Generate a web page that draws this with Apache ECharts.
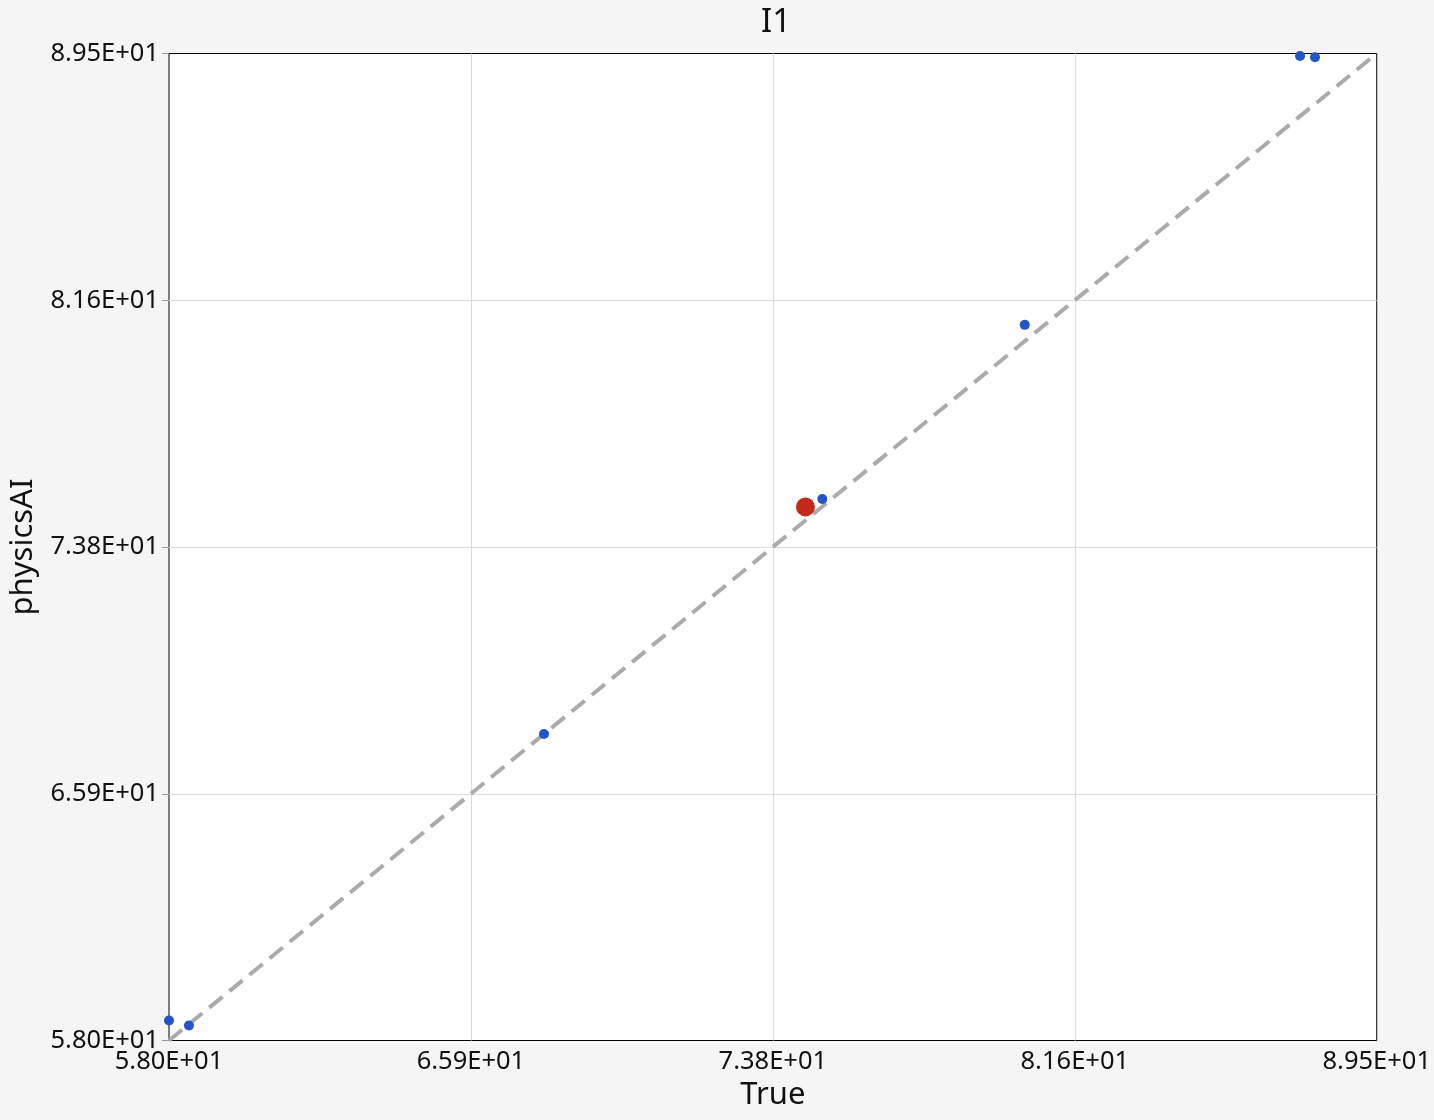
<!DOCTYPE html>
<html lang="en" style="height: 100%">
<head>
  <meta charset="utf-8">
</head>
<body style="height: 100%; margin: 0; background: #f5f5f5">
  <div id="container" style="height: 100%"></div>
  <script type="text/javascript" src="https://cdn.jsdelivr.net/npm/echarts@6/dist/echarts.min.js"></script>
  <script type="text/javascript">
    // values
    var trueVals = [58.0, 58.52, 67.78, 75.04, 80.32, 87.50, 87.89];
    var predVals = [58.64, 58.48, 67.78, 75.28, 80.84, 89.42, 89.38];
    var highlightTrue = [74.60];
    var highlightPred = [75.03];
    var axisMin = 58.0;
    var axisMax = 89.5;
    var tickStep = 7.875;

    // axis runs in offset units so ticks start at 0 (a multiple of the step)
    function shift(v) { return v - axisMin; }
    function fmt(v) {
      var s = (v + axisMin).toExponential(2).toUpperCase();
      return s.replace(/E([+-])(\d)$/, 'E$10$2');
    }

    var blueData = trueVals.map(function (x, i) { return [shift(x), shift(predVals[i])]; });
    var redData = highlightTrue.map(function (x, i) { return [shift(x), shift(highlightPred[i])]; });
    var diag = [[0, 0], [axisMax - axisMin, axisMax - axisMin]];

    var dom = document.getElementById('container');
    var myChart = echarts.init(dom, null, { renderer: 'canvas' });
    var font = 'Noto Sans';

    var option = {
      backgroundColor: '#f5f5f5',
      animation: false,
      title: {
        text: 'I1',
        left: 771,
        textAlign: 'center',
        top: 1,
        textStyle: { fontFamily: font, fontSize: 33, fontWeight: 'normal', color: '#111' }
      },
      grid: {
        // half-pixel offsets keep the 1px black frame crisp
        left: 166.5, right: 55.5, top: 53.5, bottom: 79.5,
        show: true, backgroundColor: '#fff', borderColor: '#000', borderWidth: 1
      },
      xAxis: {
        type: 'value',
        min: 0, max: axisMax - axisMin, interval: tickStep,
        name: 'True', nameLocation: 'middle', nameGap: 36,
        nameTextStyle: { fontFamily: font, fontSize: 31, color: '#111' },
        axisLine: { show: false },
        axisTick: { show: false },
        axisLabel: { fontFamily: font, fontSize: 25.5, color: '#111', margin: 8, formatter: fmt },
        splitLine: { showMinLine: false, showMaxLine: false, lineStyle: { color: '#dcdcdc', width: 1 } }
      },
      yAxis: {
        type: 'value',
        min: 0, max: axisMax - axisMin, interval: tickStep,
        name: 'physicsAI', nameLocation: 'middle', nameGap: 130,
        nameTextStyle: { fontFamily: font, fontSize: 31, color: '#111' },
        axisLine: { show: false },
        axisTick: { show: true, length: 7, lineStyle: { color: '#999' } },
        axisLabel: { fontFamily: font, fontSize: 25.5, color: '#111', margin: 10, formatter: fmt },
        splitLine: { showMinLine: false, showMaxLine: false, lineStyle: { color: '#dcdcdc', width: 1 } }
      },
      series: [
        {
          type: 'line',
          data: diag,
          symbol: 'none',
          silent: true,
          z: 1,
          lineStyle: { color: '#ababab', width: 4, type: [17, 9] }
        },
        {
          type: 'scatter',
          data: blueData,
          symbolSize: 10,
          z: 3,
          itemStyle: { color: '#2454c8', opacity: 1 }
        },
        {
          type: 'scatter',
          data: redData,
          symbolSize: 19,
          z: 4,
          itemStyle: { color: '#c42a1c', opacity: 1 }
        }
      ]
    };

    myChart.setOption(option);
    window.addEventListener('resize', myChart.resize);
  </script>
</body>
</html>
